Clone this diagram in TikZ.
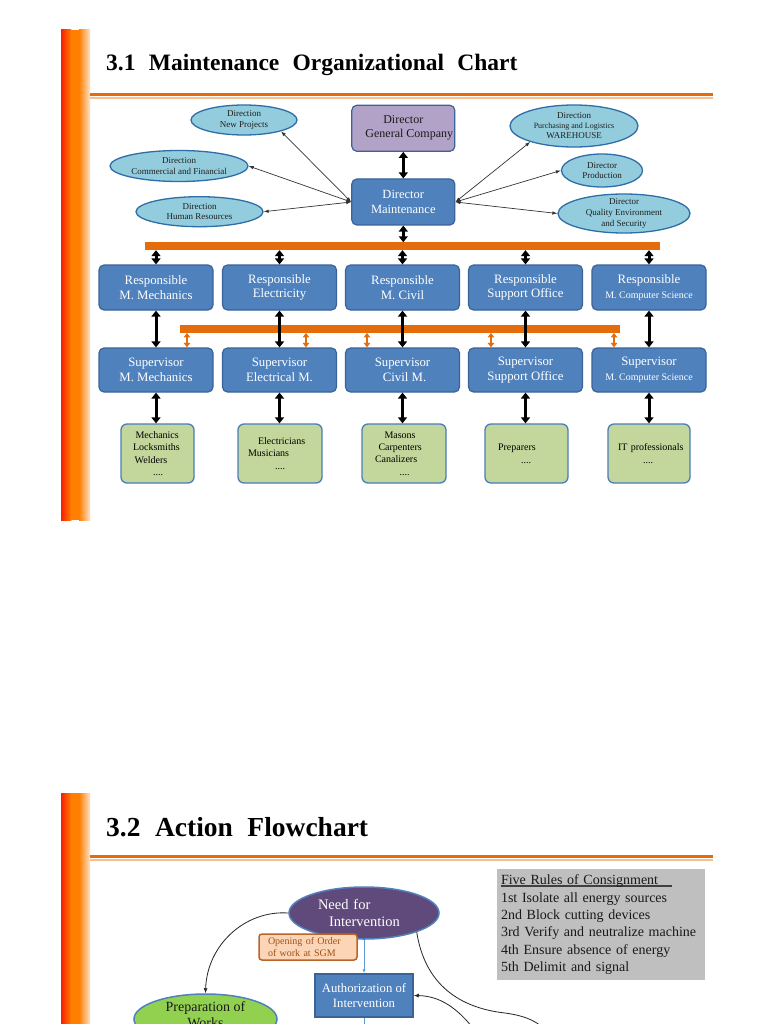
\documentclass[tikz,border=0pt]{standalone}
\usepackage{fontspec}
\setmainfont{Liberation Serif}
\usetikzlibrary{shapes.geometric,arrows.meta,calc}
\definecolor{orgbar}{HTML}{E46C0A}
\definecolor{peachline}{HTML}{F8BF90}
\definecolor{boxblue}{HTML}{4F81BD}
\definecolor{boxedge}{HTML}{3A6397}
\definecolor{dgcfill}{HTML}{B3A2C7}
\definecolor{ellfill}{HTML}{93CDDD}
\definecolor{elledge}{HTML}{2F6DA8}
\definecolor{grnfill}{HTML}{C3D69B}
\definecolor{grnedge}{HTML}{4A7EBB}
\definecolor{rulegray}{HTML}{BFBFBF}
\definecolor{needfill}{HTML}{604A7B}
\definecolor{prepfill}{HTML}{92D050}
\definecolor{openfill}{HTML}{FBD5B5}
\definecolor{openedge}{HTML}{B9652A}
\definecolor{opentext}{HTML}{A0521B}
\definecolor{flowblue}{HTML}{5B9BD5}
\definecolor{barred}{HTML}{FA1E05}
\definecolor{barorange}{HTML}{FF7F00}
\definecolor{barpale}{HTML}{FFE3C8}
\tikzset{
 orgbox/.style={rectangle, rounded corners=5pt, fill=boxblue, draw=boxedge, line width=1.2pt, text=white, minimum width=114pt, minimum height=45pt, inner sep=0pt, align=center, font=\fontsize{12.8}{14.6}\selectfont},
 direll/.style={ellipse, fill=ellfill, draw=elledge, line width=1.3pt, inner sep=-3pt, align=center, text=black!88, font=\fontsize{9}{10.5}\selectfont},
 grnbox/.style={rectangle, rounded corners=6pt, fill=grnfill, draw=grnedge, line width=1.3pt, minimum height=59pt, inner sep=0pt, align=left, text=black, font=\fontsize{10}{12.4}\selectfont},
 bigarr/.style={{Triangle[width=9pt,length=6pt]}-{Triangle[width=9pt,length=6pt]}, line width=3pt, black},
 orgarr/.style={{Triangle[width=6.5pt,length=4.5pt]}-{Triangle[width=6.5pt,length=4.5pt]}, line width=2pt, orgbar},
 thinarr/.style={{Latex[length=5pt,width=3.5pt]}-{Latex[length=5pt,width=3.5pt]}, line width=0.7pt, black!80},
 orgline/.style={fill=orgbar, draw=none, inner sep=0pt},
 titletext/.style={anchor=base west, inner sep=0pt, font=\bfseries\fontsize{#1}{#1}\selectfont},
 flowcurve/.style={line width=0.8pt, black!85},
}
\begin{document}
\begin{tikzpicture}[x=1pt,y=-1pt]
\useasboundingbox (0,0) rectangle (768,1024);
\clip (0,0) rectangle (768,1024);
\fill[white] (0,0) rectangle (768,1024);

% ---------- slide 1 ----------
\shade[left color=barred, right color=barorange] (61,30) rectangle (71.3,520);
\fill[barorange] (71,30) rectangle (79.3,520);
\shade[left color=barorange, right color=barpale] (79,30) rectangle (90,520);
\node[titletext=23.5] (t1) at (106,70.7) {3.1\hspace{13.3pt}Maintenance\hspace{13.3pt}Organizational\hspace{13.3pt}Chart};
\draw[orgbar, line width=3pt] (90,94.5) -- (713,94.5);
\draw[peachline, line width=2pt] (90,98) -- (713,98);

\node[orgbox, fill=dgcfill, text=black!90, minimum width=103pt, minimum height=46pt, font=\fontsize{12}{14}\selectfont] (dgc) at (403.3,128.3) {Director\\\hspace*{12pt}General Company};
\node[orgbox, minimum width=103pt, minimum height=46pt, font=\fontsize{12.5}{14.5}\selectfont] (dm) at (403.3,202) {Director\\Maintenance};

\node[direll, minimum width=106pt, minimum height=30pt] (np) at (244,120) {Direction\\New Projects};
\node[direll, minimum width=138pt, minimum height=31pt] (cf) at (179,166) {Direction\\Commercial and Financial};
\node[direll, minimum width=127pt, minimum height=30pt] (hr) at (199.5,211.7) {Direction\\Human Resources};
\node[direll, minimum width=128pt, minimum height=42pt, font=\fontsize{9}{10}\selectfont] (pl) at (574,126) {Direction\\{\fontsize{8}{10}\selectfont Purchasing and Logistics}\\WAREHOUSE};
\node[direll, minimum width=81pt, minimum height=33pt] (pr) at (602,170.5) {Director\\Production};
\node[direll, minimum width=132pt, minimum height=39pt, font=\fontsize{9}{11.3}\selectfont] (qe) at (624,213.5) {Director\\Quality Environment\\and Security};

\draw[thinarr] (dm.west) -- (np.-17);
\draw[thinarr] (dm.west) -- (cf.east);
\draw[thinarr] (dm.west) -- (hr.east);
\draw[thinarr] (dm.east) -- (pl.200);
\draw[thinarr] (dm.east) -- (pr.west);
\draw[thinarr] (dm.east) -- (qe.west);

\node[orgline, minimum width=515pt, minimum height=7.5pt] (bar1) at (402.5,246.2) {};
\node[orgline, minimum width=440pt, minimum height=7.5pt] (bar2) at (400,329) {};

\node[orgbox] (r1) at (156,287.5) {Responsible\\M. Mechanics};
\node[orgbox] (r2) at (279.5,287.5) {Responsible\\Electricity};
\node[orgbox] (r3) at (402.5,287.5) {Responsible\\M. Civil};
\node[orgbox] (r4) at (525.5,287.5) {Responsible\\Support Office};
\node[orgbox] (r5) at (649,287.5) {Responsible\\{\fontsize{10}{14.6}\selectfont M. Computer Science}};

\node[orgbox, minimum height=44pt] (s1) at (156,370) {Supervisor\\M. Mechanics};
\node[orgbox, minimum height=44pt] (s2) at (279.5,370) {Supervisor\\Electrical M.};
\node[orgbox, minimum height=44pt] (s3) at (402.5,370) {Supervisor\\\hspace*{4pt}Civil M.};
\node[orgbox, minimum height=44pt] (s4) at (525.5,370) {Supervisor\\Support Office};
\node[orgbox, minimum height=44pt] (s5) at (649,370) {Supervisor\\{\fontsize{10}{14.6}\selectfont M. Computer Science}};

\node[grnbox, text width=73pt, minimum width=73pt] (g1) at (157.5,453.5) {\hspace*{14.5pt}Mechanics\\\hspace*{12pt}Locksmiths\\\hspace*{13.7pt}Welders\\\hspace*{32pt}....};
\node[grnbox, text width=84pt, minimum width=84pt, font=\fontsize{10}{12.5}\selectfont] (g2) at (280,453.5) {\hspace*{20pt}Electricians\\\hspace*{10pt}Musicians\\\hspace*{37pt}....};
\node[grnbox, text width=84pt, minimum width=84pt] (g3) at (404,453.5) {\hspace*{22.5pt}Masons\\\hspace*{16.5pt}Carpenters\\\hspace*{13pt}Canalizers\\\hspace*{37.5pt}....};
\node[grnbox, text width=83pt, minimum width=83pt, font=\fontsize{10}{12.7}\selectfont] (g4) at (526.5,453.5) {\hspace*{13pt}Preparers\\\hspace*{36pt}....};
\node[grnbox, text width=82pt, minimum width=82pt, font=\fontsize{10}{12.7}\selectfont] (g5) at (649,453.5) {\hspace*{10pt}IT professionals\\\hspace*{35pt}....};

\draw[bigarr] (dgc.south) -- (dm.north);
\draw[bigarr] (dm.south) -- (dm.south |- bar1.north);
\foreach \i in {1,...,5} {
  \draw[bigarr] (r\i.north |- bar1.south) -- (r\i.north);
  \draw[bigarr] (r\i.south) -- (s\i.north);
  \draw[bigarr] (s\i.south) -- (s\i.south |- g\i.north);
}
\coordinate (o1) at (187,0);
\coordinate (o2) at (306,0);
\coordinate (o3) at (367,0);
\coordinate (o4) at (491,0);
\coordinate (o5) at (614,0);
\draw[orgarr] (o1 |- bar2.south) -- (o1 |- s1.north);
\draw[orgarr] (o2 |- bar2.south) -- (o2 |- s2.north);
\draw[orgarr] (o3 |- bar2.south) -- (o3 |- s3.north);
\draw[orgarr] (o4 |- bar2.south) -- (o4 |- s4.north);
\draw[orgarr] (o5 |- bar2.south) -- (o5 |- s5.north);

% ---------- slide 2 ----------
\shade[left color=barred, right color=barorange] (61,793) rectangle (71.3,1024);
\fill[barorange] (71,793) rectangle (79.3,1024);
\shade[left color=barorange, right color=barpale] (79,793) rectangle (90,1024);
\node[titletext=27.5] (t2) at (106,836.7) {3.2\hspace{14.5pt}Action\hspace{14.5pt}Flowchart};
\draw[orgbar, line width=3pt] (90,856.5) -- (713,856.5);
\draw[peachline, line width=2pt] (90,860) -- (713,860);

\node[rectangle, fill=rulegray, minimum width=208pt, minimum height=111.5pt, inner sep=0pt, text width=200pt, align=left, font=\fontsize{14}{17.4}\selectfont, text=black!90] (rules) at (601,924.7) {\rlap{\textcolor{black!75}{\rule[-2pt]{171pt}{1.3pt}}}Five Rules of Consignment\\1st Isolate all energy sources\\2nd Block cutting devices\\3rd Verify and neutralize machine\\4th Ensure absence of energy\\5th Delimit and signal};

\node[ellipse, fill=needfill, draw=boxblue, line width=1.5pt, minimum width=150pt, minimum height=52pt, inner sep=0pt, text width=92pt, align=left, text=white, font=\fontsize{14.5}{16.7}\selectfont] (need) at (364,913) {Need for\\\hspace*{11pt}Intervention};
\node[rectangle, rounded corners=3pt, fill=openfill, draw=openedge, line width=1.5pt, minimum width=98pt, minimum height=26pt, inner sep=0pt, text width=80pt, align=left, text=opentext, font=\fontsize{10}{11.7}\selectfont] (open) at (308,947) {Opening of Order\\of work at SGM};
\node[rectangle, fill=boxblue, draw=boxedge, line width=1.5pt, minimum width=98pt, minimum height=43pt, inner sep=0pt, align=center, text=white, font=\fontsize{12.7}{15}\selectfont] (auth) at (364,995.5) {Authorization of\\Intervention};
\node[ellipse, fill=prepfill, draw=boxblue, line width=1.5pt, minimum width=143pt, minimum height=50pt, inner sep=0pt, align=center, text=black!90, font=\fontsize{14}{16}\selectfont] (prep) at (205.5,1019) {Preparation of\\Works\rule[-8pt]{0pt}{8pt}};

\draw[flowblue, line width=0.9pt, -{Latex[length=4pt,width=3pt]}] (need.south) -- (auth.north);
\coordinate (authout) at (364,1032);
\draw[flowblue, line width=0.9pt] (auth.south) -- (authout);
\draw[flowcurve, -{Latex[length=5pt,width=4pt]}] (need.west) .. controls (245,910) and (207,945) .. (prep.north);
\coordinate (sout) at (548,1032);
\draw[flowcurve] (need.-20) .. controls (425,985) and (460,1008) .. (505,1013) .. controls (527,1016) and (538,1022) .. (sout);
\coordinate (sin) at (476,1032);
\draw[flowcurve, -{Latex[length=5pt,width=4pt]}] (sin) .. controls (458,1008) and (440,996) .. (auth.east);
\end{tikzpicture}
\end{document}
